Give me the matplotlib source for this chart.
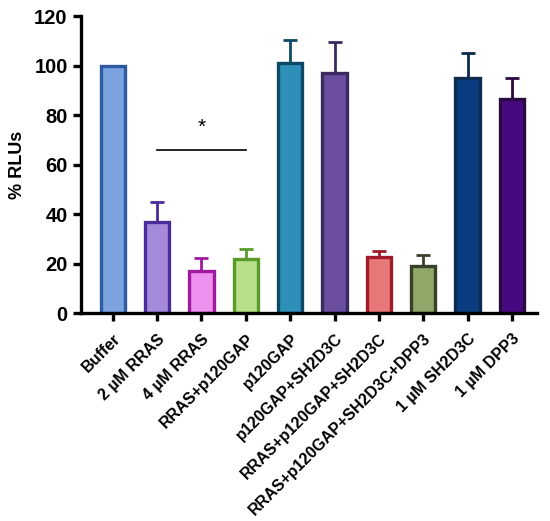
import matplotlib
matplotlib.use("Agg")
import matplotlib.pyplot as plt

plt.rcParams['font.family'] = ['Liberation Sans', 'DejaVu Sans']

# Luciferase readout, % RLUs relative to buffer
labels = ['Buffer', '2 \u00b5M RRAS', '4 \u00b5M RRAS', 'RRAS+p120GAP', 'p120GAP',
          'p120GAP+SH2D3C', 'RRAS+p120GAP+SH2D3C', 'RRAS+p120GAP+SH2D3C+DPP3',
          '1 \u00b5M SH2D3C', '1 \u00b5M DPP3']
values = [100, 37, 17, 22, 101, 97, 22.5, 19, 95, 86.5]
errors = [0, 8, 5.3, 4, 9.3, 12.6, 2.4, 4.6, 10.2, 8.5]
face_colors = ['#7BA3DF', '#A48AD8', '#EE90EE', '#B8E08A', '#2E8FB8',
               '#6A4FA0', '#E87878', '#8FA86A', '#0A3D80', '#480880']
edge_colors = ['#2D5AA0', '#4B2A9A', '#A01AA0', '#5A9A2A', '#0E4A66',
               '#3A2A60', '#A01A2A', '#3A4028', '#0A2A50', '#2A0A40']
yticks = [0, 20, 40, 60, 80, 100, 120]

# significance bracket between 2 uM RRAS and RRAS+p120GAP
sig_from, sig_to, sig_y, star_y = 1, 3, 66, 75

fig = plt.figure(figsize=(5.5, 5.21), dpi=100)
ax = fig.add_axes([0.147, 0.399, 0.829, 0.57])

x = list(range(len(labels)))
for i in x:
    ax.bar(i, values[i], width=0.55, color=face_colors[i],
           edgecolor=edge_colors[i], linewidth=2.4, zorder=2)
    if errors[i] > 0:
        ax.errorbar(i, values[i], yerr=[[0], [errors[i]]], fmt='none',
                    ecolor=edge_colors[i], elinewidth=2.0, capsize=5,
                    capthick=2.0, zorder=1)

ax.plot([sig_from, sig_to], [sig_y, sig_y], color='black', lw=1.2)
ax.text((sig_from + sig_to) / 2, star_y, '*', ha='center', va='center', fontsize=15)

ax.set_xlim(-0.72, 9.56)
ax.set_ylim(0, 120)
ax.set_yticks(yticks)
ax.set_yticklabels([str(t) for t in yticks], fontsize=14.5, fontweight='bold')
ax.set_xticks(x)
ax.set_xticklabels(labels, rotation=45, ha='right', rotation_mode='anchor',
                   fontsize=11.5, fontweight='bold')
ax.set_ylabel('% RLUs', fontsize=13, fontweight='bold', labelpad=6)

for side in ['top', 'right']:
    ax.spines[side].set_visible(False)
for side in ['left', 'bottom']:
    ax.spines[side].set_linewidth(2.4)
ax.tick_params(axis='both', width=2.4, length=6, direction='out')
ax.tick_params(axis='x', pad=7)

plt.savefig('out.png', dpi=100)
